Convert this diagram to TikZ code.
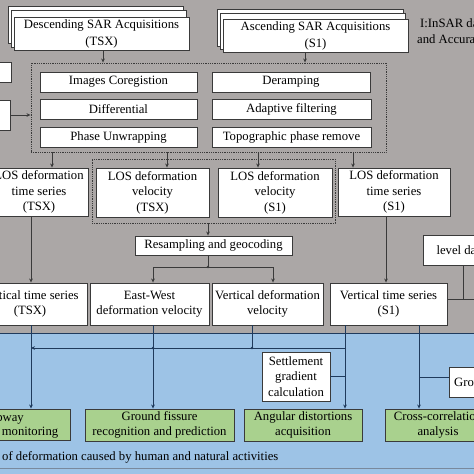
\documentclass[tikz,border=0pt]{standalone}
\usepackage{fontspec}
\setmainfont{Liberation Serif}
\usetikzlibrary{arrows.meta}
\definecolor{bggrey}{HTML}{ABA7A6}
\definecolor{bgblue}{HTML}{9DC3E6}
\definecolor{gboxfill}{HTML}{A9D18E}
\definecolor{edgecol}{HTML}{3A3A3A}
\definecolor{navycol}{HTML}{1F3A5C}
\newcommand\placebox[7]{\node[#6, minimum width={(#4-#2)*1pt}, minimum height={(#5-#3)*1pt}] (#1) at ({(#2+#4)/2},{(#3+#5)/2}) {#7};}
\tikzset{
 txt/.style={font=\fontsize{12.7}{15.5}\selectfont, align=center, inner sep=0pt},
 wbox/.style={txt, draw=edgecol, fill=white, line width=0.9pt},
 gbox/.style={txt, draw=edgecol, fill=gboxfill, line width=0.9pt},
 dotframe/.style={draw=edgecol, dash pattern=on 0.9pt off 0.9pt, line width=0.9pt, inner sep=0pt},
 ln/.style={line width=0.8pt, draw=edgecol},
 arr/.style={ln, -{Stealth[length=4pt,width=3.6pt]}},
 bln/.style={line width=0.8pt, draw=navycol},
 barr/.style={bln, -{Stealth[length=4pt,width=3.6pt]}},
 jdot/.style={fill=navycol},
}
\begin{document}
\begin{tikzpicture}[x=1pt,y=-1pt]
\useasboundingbox (0,0) rectangle (474,474);
\clip (0,0) rectangle (474,474);
% backgrounds
\fill[bggrey] (-2,-2) rectangle (476,333);
\fill[bgblue] (-2,333) rectangle (476,476);
\draw[navycol, line width=1pt] (-2,333) -- (476,333);
\draw[navycol!60, line width=0.6pt] (-2,468) -- (476,468);
% acquisitions
\placebox{descA}{8}{6}{183}{43}{wbox}{}
\placebox{descB}{11}{10}{186}{47}{wbox}{}
\placebox{desc}{14}{17}{189}{50}{wbox}{Descending SAR Acquisitions\\[1.5pt](TSX)}
\placebox{ascA}{217}{9}{403}{46}{wbox}{}
\placebox{ascB}{220}{13}{405}{49}{wbox}{}
\placebox{asc}{223}{19}{408}{52}{wbox}{Ascending SAR Acquisitions\\[1.5pt](S1)}
\node[txt, anchor=west] (insarA) at (420,23) {I:InSAR data};
\node[txt, anchor=west] (insarB) at (417,40) {and Accuracy};
% processing frame
\placebox{frameA}{31}{63}{386}{152}{dotframe}{}
\placebox{coreg}{40}{72}{197}{92}{wbox}{Images Coregistion}
\placebox{diff}{40}{99}{197}{119}{wbox}{Differential}
\placebox{unwrap}{40}{127}{197}{147}{wbox}{Phase Unwrapping}
\placebox{deramp}{212}{72}{370}{92}{wbox}{Deramping}
\placebox{adapt}{212}{99}{371}{119}{wbox}{Adaptive filtering}
\placebox{topo}{212}{127}{371}{147}{wbox}{Topographic phase remove}
\placebox{lboxA}{-20}{62}{11}{82}{wbox}{}
\placebox{lboxB}{-30}{100}{10}{130}{wbox}{}
% LOS row
\placebox{losTts}{-10}{168}{88}{216}{wbox}{LOS deformation\\time series\\(TSX)}
\placebox{frameB}{92}{159}{335}{223}{dotframe}{}
\placebox{losTv}{96}{168}{209}{217}{wbox}{LOS deformation\\velocity\\(TSX)}
\placebox{losSv}{218}{168}{332}{217}{wbox}{LOS deformation\\velocity\\(S1)}
\placebox{losSts}{338}{168}{450}{216}{wbox}{LOS deformation\\time series\\(S1)}
\placebox{resamp}{135}{236}{292}{255}{wbox}{Resampling and geocoding}
\placebox{level}{423}{235}{499}{265}{wbox}{level data}
% vertical row
\placebox{vtsx}{-27}{283}{87}{325}{wbox}{Vertical time series\\(TSX)}
\placebox{ew}{90}{283}{209}{325}{wbox}{East-West\\deformation velocity}
\placebox{vdv}{212}{283}{323}{325}{wbox}{Vertical deformation\\velocity}
\placebox{vs1}{330}{283}{447}{325}{wbox}{Vertical time series\\(S1)}
% applications
\placebox{settle}{262}{352}{330}{401}{wbox}{Settlement\\gradient\\calculation}
\placebox{gro}{449}{367}{540}{397}{wbox}{}
\node[txt, anchor=west] (grotext) at (454,382) {Ground};
\placebox{subway}{-50}{409}{70}{440}{gbox}{}
\node[txt, anchor=east] (subwayA) at (24,418) {Subway};
\node[txt] (subwayB) at (30,433) {monitoring};
\placebox{gf}{85}{409}{234}{441}{gbox}{Ground fissure\\recognition and prediction}
\placebox{ang}{244}{409}{362}{441}{gbox}{Angular distortions\\acquisition}
\placebox{cc}{385}{409}{491}{441}{gbox}{Cross-correlation\\analysis}
\node[txt, anchor=west] (bottomtext) at (2,457) {of deformation caused by human and natural activities};
% connectors, grey part
\draw[arr] (desc.south -| 103,0) -- (frameA.north -| 103,0);
\draw[arr] (asc.south -| 305,0) -- (frameA.north -| 305,0);
\draw[arr] (lboxB.east) -- (lboxB.east -| frameA.west);
\draw[arr] (frameA.south -| 52,0) -- (losTts.north -| 52,0);
\draw[arr] (frameA.south -| 167,0) -- (losTv.north -| 167,0);
\draw[arr] (frameA.south -| 258,0) -- (losSv.north -| 258,0);
\draw[arr] (frameA.south -| 353,0) -- (losSts.north -| 353,0);
\draw[arr] (frameB.south -| 208,0) -- (resamp.north -| 208,0);
\coordinate (j1) at (208,267);
\draw[ln] (resamp.south -| j1) -- (j1);
\fill[edgecol] (j1) circle (1.4pt);
\draw[arr] (j1) -| (ew.north -| 153,0);
\draw[arr] (j1) -| (vdv.north -| 273,0);
\draw[arr] (losTts.south -| 31,0) -- (vtsx.north -| 31,0);
\draw[arr] (losSts.south -| 386,0) -- (vs1.north -| 386,0);
\coordinate (j2) at (463,299);
\coordinate (rightend) at (480,299);
\draw[ln] (level.south -| j2) -- (j2);
\draw[ln] (vs1.east |- j2) -- (rightend);
% connectors, blue part
\draw[barr] (vtsx.south -| 31,0) -- (subway.north -| 31,0);
\draw[barr] (ew.south -| 153,0) -- (gf.north -| 153,0);
\coordinate (j3) at (252,348);
\coordinate (j4) at (153,348);
\coordinate (j5) at (346,348);
\coordinate (j6) at (31,348);
\draw[bln] (vdv.south -| j3) -- (j3);
\draw[barr] (j5) -- (j6);
\fill[jdot] (j3) circle (1.4pt);
\fill[jdot] (j4) circle (1.4pt);
\draw[barr] (vs1.south -| 345,0) -- (ang.north -| 345,0);
\draw[bln] (settle.east) -- (settle.east -| 345,0);
\draw[barr] (vs1.south -| 419,0) -- (cc.north -| 419,0);
\coordinate (j7) at (419,377);
\draw[bln] (j7) -- (gro.west |- j7);
\end{tikzpicture}
\end{document}
